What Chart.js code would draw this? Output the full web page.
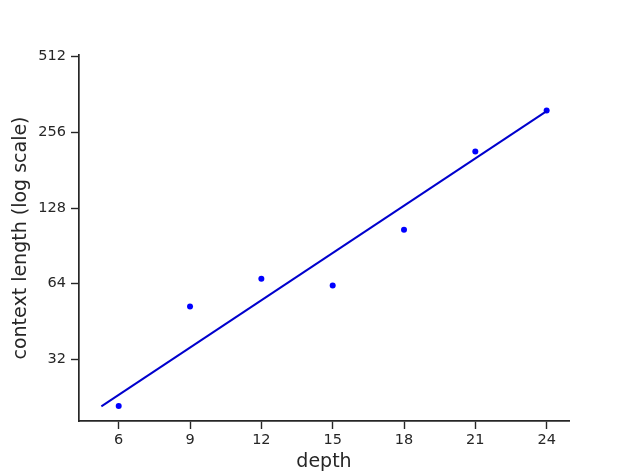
<!DOCTYPE html>
<html>
<head>
<meta charset="utf-8">
<script src="https://cdn.jsdelivr.net/npm/chart.js@4"></script>
<style>
  body { margin: 0; background: #fff; }
</style>
</head>
<body>
<canvas id="chart" width="631" height="473"></canvas>
<script>
// data
const depths = [6, 9, 12, 15, 18, 21, 24];
const contextLengths = [20.9, 51.9, 67.0, 63.0, 105, 215, 313];
const fitDepths = [5.27, 24];
const fitLengths = [20.8, 311];
const xTicks = [6, 9, 12, 15, 18, 21, 24];
const yTicks = [32, 64, 128, 256, 512];

const ink = "#262626";
const font = { family: "DejaVu Sans", size: 14.5 };
const titleFont = { family: "DejaVu Sans", size: 19 };

new Chart(document.getElementById("chart"), {
  data: {
    datasets: [
      {
        type: "line",
        data: fitDepths.map((d, i) => ({ x: d, y: fitLengths[i] })),
        borderColor: "#0000cd",
        borderWidth: 2,
        pointRadius: 0,
        fill: false,
      },
      {
        type: "scatter",
        data: depths.map((d, i) => ({ x: d, y: contextLengths[i] })),
        backgroundColor: "#0000ff",
        borderColor: "#0000ff",
        pointRadius: 3,
        borderWidth: 0,
      },
    ],
  },
  options: {
    responsive: false,
    animation: false,
    layout: { padding: { top: 55, right: 62, left: 0, bottom: 0 } },
    plugins: { legend: { display: false }, tooltip: { enabled: false } },
    scales: {
      x: {
        type: "linear",
        min: 4.33,
        max: 24.94,
        afterBuildTicks: (axis) => { axis.ticks = xTicks.map((v) => ({ value: v })); },
        afterFit: (axis) => { axis.height = 52; },
        border: { display: true, color: ink, width: 1.7 },
        grid: { drawOnChartArea: false, drawTicks: true, tickLength: 8, tickColor: ink, tickWidth: 1.4 },
        ticks: { color: ink, font: font, padding: 3, maxRotation: 0 },
        title: { display: true, text: "depth", color: ink, font: titleFont, padding: { top: 4, bottom: 0 } },
      },
      y: {
        type: "logarithmic",
        min: 18.2,
        max: 520,
        afterBuildTicks: (axis) => { axis.ticks = yTicks.map((v) => ({ value: v })); },
        afterFit: (axis) => { axis.width = 79; },
        border: { display: true, color: ink, width: 1.7 },
        grid: { drawOnChartArea: false, drawTicks: true, tickLength: 8, tickColor: ink, tickWidth: 1.4 },
        ticks: { color: ink, font: font, padding: 5, callback: (v) => String(v) },
        title: { display: true, text: "context length (log scale)", color: ink, font: titleFont, padding: { top: 10, bottom: 4 } },
      },
    },
  },
});
</script>
</body>
</html>
